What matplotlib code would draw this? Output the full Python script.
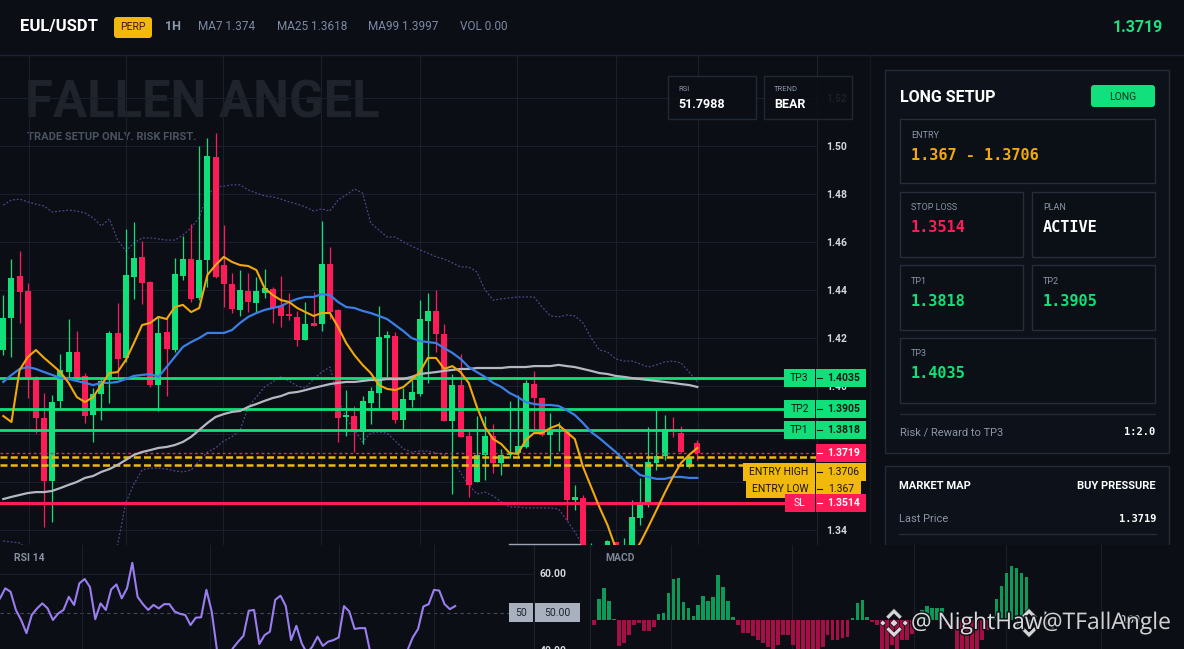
import matplotlib
matplotlib.use("Agg")
import matplotlib.pyplot as plt
from matplotlib.patches import Rectangle, FancyBboxPatch, Polygon
from matplotlib.transforms import blended_transform_factory
import matplotlib.patheffects as pe

SANS = ["Roboto", "DejaVu Sans"]
MONO = ["DejaVu Sans Mono"]
plt.rcParams["font.family"] = SANS

# ---- 1H candles of EUL/USDT ----
opens = [1.4150, 1.4283, 1.4458, 1.4396, 1.4038, 1.3867, 1.3604, 1.3938, 1.4058, 1.4142,
         1.4042, 1.3879, 1.3967, 1.4025, 1.4221, 1.4117, 1.4454, 1.4538, 1.4433, 1.4004,
         1.4225, 1.4150, 1.4458, 1.4529, 1.4367, 1.4525, 1.4954, 1.4504, 1.4425, 1.4317,
         1.4396, 1.4346, 1.4388, 1.4404, 1.4333, 1.4300, 1.4288, 1.4192, 1.4263, 1.4258,
         1.4508, 1.4317, 1.3871, 1.3875, 1.3808, 1.3929, 1.3971, 1.4200, 1.4208, 1.3858,
         1.3942, 1.3967, 1.4271, 1.4313, 1.4217, 1.3854, 1.4004, 1.3792, 1.3600, 1.3713,
         1.3792, 1.3679, 1.3713, 1.3721, 1.3746, 1.4008, 1.3950, 1.3796, 1.3808, 1.3808,
         1.3525, 1.3533, 1.3290, 1.3310, 1.3270, 1.3352, 1.3300, 1.3320, 1.3450, 1.3504,
         1.3679, 1.3708, 1.3821, 1.3804, 1.3663, 1.3763]
highs = [1.4379, 1.4529, 1.4563, 1.4429, 1.4042, 1.3971, 1.3963, 1.4133, 1.4279, 1.4229,
         1.4054, 1.3992, 1.4033, 1.4229, 1.4346, 1.4654, 1.4683, 1.4604, 1.4438, 1.4292,
         1.4283, 1.4533, 1.4625, 1.4675, 1.5000, 1.5033, 1.5054, 1.4671, 1.4471, 1.4483,
         1.4471, 1.4454, 1.4488, 1.4413, 1.4458, 1.4388, 1.4313, 1.4350, 1.4392, 1.4688,
         1.4579, 1.4321, 1.3983, 1.3917, 1.3958, 1.3996, 1.4333, 1.4229, 1.4225, 1.3992,
         1.4025, 1.4358, 1.4388, 1.4400, 1.4258, 1.4050, 1.4133, 1.3821, 1.3875, 1.3875,
         1.3842, 1.3738, 1.3938, 1.3963, 1.4025, 1.4063, 1.3954, 1.3888, 1.3850, 1.3808,
         1.3588, 1.3546, 1.3346, 1.3330, 1.3358, 1.3352, 1.3367, 1.3525, 1.3617, 1.3829,
         1.3904, 1.3879, 1.3871, 1.3833, 1.3713, 1.3775]
lows = [1.4129, 1.4121, 1.4263, 1.3950, 1.3804, 1.3413, 1.3433, 1.3908, 1.4038, 1.4025,
        1.3846, 1.3767, 1.3858, 1.3929, 1.4038, 1.4100, 1.4363, 1.4342, 1.3996, 1.3896,
        1.3958, 1.4142, 1.4442, 1.4350, 1.4358, 1.4413, 1.4450, 1.4329, 1.4304, 1.4292,
        1.4308, 1.4304, 1.4367, 1.4263, 1.4246, 1.4275, 1.4167, 1.4192, 1.4250, 1.4229,
        1.4279, 1.3767, 1.3792, 1.3725, 1.3758, 1.3842, 1.3908, 1.4038, 1.3846, 1.3821,
        1.3913, 1.3958, 1.4013, 1.4142, 1.3854, 1.3550, 1.3788, 1.3538, 1.3600, 1.3608,
        1.3638, 1.3629, 1.3700, 1.3704, 1.3742, 1.3817, 1.3792, 1.3671, 1.3729, 1.3442,
        1.3483, 1.3250, 1.3240, 1.3230, 1.3250, 1.3260, 1.3280, 1.3300, 1.3421, 1.3496,
        1.3650, 1.3692, 1.3788, 1.3721, 1.3658, 1.3692]
closes = [1.4283, 1.4450, 1.4392, 1.4038, 1.3867, 1.3604, 1.3933, 1.4067, 1.4142, 1.4038,
          1.3875, 1.3967, 1.4021, 1.4221, 1.4113, 1.4463, 1.4533, 1.4429, 1.4004, 1.4221,
          1.4154, 1.4467, 1.4529, 1.4363, 1.4525, 1.4958, 1.4454, 1.4425, 1.4321, 1.4400,
          1.4350, 1.4396, 1.4408, 1.4325, 1.4292, 1.4292, 1.4192, 1.4258, 1.4250, 1.4508,
          1.4308, 1.3867, 1.3879, 1.3808, 1.3938, 1.3979, 1.4204, 1.4213, 1.3858, 1.3946,
          1.3975, 1.4279, 1.4313, 1.4217, 1.3854, 1.4004, 1.3788, 1.3588, 1.3713, 1.3792,
          1.3679, 1.3713, 1.3721, 1.3750, 1.4013, 1.3950, 1.3796, 1.3817, 1.3817, 1.3525,
          1.3538, 1.3290, 1.3310, 1.3270, 1.3356, 1.3300, 1.3330, 1.3454, 1.3513, 1.3683,
          1.3708, 1.3821, 1.3813, 1.3725, 1.3704, 1.3719]

ma7 = [1.3875, 1.3850, 1.4067, 1.4121, 1.4150, 1.4117, 1.4088, 1.4058, 1.4013, 1.3954,
       1.3933, 1.3954, 1.4004, 1.4054, 1.4058, 1.4108, 1.4179, 1.4254, 1.4263, 1.4288,
       1.4279, 1.4329, 1.4338, 1.4308, 1.4325, 1.4463, 1.4504, 1.4538, 1.4517, 1.4504,
       1.4500, 1.4483, 1.4408, 1.4379, 1.4358, 1.4350, 1.4325, 1.4308, 1.4292, 1.4304,
       1.4304, 1.4246, 1.4179, 1.4129, 1.4088, 1.4054, 1.4004, 1.3988, 1.3983, 1.3996,
       1.4025, 1.4058, 1.4117, 1.4117, 1.4071, 1.4083, 1.4058, 1.4013, 1.3913, 1.3829,
       1.3779, 1.3758, 1.3721, 1.3717, 1.3775, 1.3804, 1.3804, 1.3825, 1.3838, 1.3808,
       1.3779, 1.3663, 1.3579, 1.3496, 1.3421, 1.3325, 1.3275, 1.3296, 1.3346, 1.3413,
       1.3483, 1.3554, 1.3621, 1.3679, 1.3713, 1.3742]
ma25 = [1.4017, 1.4046, 1.4071, 1.4079, 1.4071, 1.4058, 1.4046, 1.4033, 1.4029, 1.4021,
        1.4013, 1.4004, 1.4013, 1.4013, 1.4017, 1.4029, 1.4042, 1.4046, 1.4050, 1.4038,
        1.4079, 1.4121, 1.4163, 1.4183, 1.4200, 1.4221, 1.4221, 1.4221, 1.4233, 1.4263,
        1.4288, 1.4304, 1.4317, 1.4325, 1.4333, 1.4350, 1.4363, 1.4371, 1.4371, 1.4383,
        1.4379, 1.4350, 1.4329, 1.4325, 1.4313, 1.4304, 1.4292, 1.4279, 1.4254, 1.4229,
        1.4200, 1.4188, 1.4183, 1.4179, 1.4158, 1.4138, 1.4113, 1.4079, 1.4058, 1.4038,
        1.4013, 1.3996, 1.3971, 1.3954, 1.3933, 1.3925, 1.3921, 1.3921, 1.3917, 1.3900,
        1.3879, 1.3846, 1.3808, 1.3783, 1.3754, 1.3725, 1.3692, 1.3658, 1.3629, 1.3621,
        1.3613, 1.3613, 1.3621, 1.3621, 1.3617, 1.3617]
ma99 = [1.3529, 1.3538, 1.3546, 1.3554, 1.3558, 1.3558, 1.3563, 1.3575, 1.3588, 1.3600,
        1.3617, 1.3625, 1.3642, 1.3654, 1.3671, 1.3692, 1.3713, 1.3725, 1.3733, 1.3742,
        1.3746, 1.3754, 1.3767, 1.3788, 1.3817, 1.3846, 1.3871, 1.3883, 1.3892, 1.3896,
        1.3913, 1.3925, 1.3938, 1.3950, 1.3958, 1.3971, 1.3975, 1.3983, 1.3992, 1.4000,
        1.4008, 1.4013, 1.4017, 1.4017, 1.4021, 1.4025, 1.4025, 1.4029, 1.4029, 1.4029,
        1.4038, 1.4050, 1.4054, 1.4058, 1.4063, 1.4067, 1.4071, 1.4071, 1.4075, 1.4075,
        1.4075, 1.4075, 1.4079, 1.4079, 1.4079, 1.4083, 1.4083, 1.4083, 1.4088, 1.4083,
        1.4079, 1.4071, 1.4063, 1.4054, 1.4050, 1.4042, 1.4038, 1.4033, 1.4029, 1.4025,
        1.4021, 1.4017, 1.4013, 1.4008, 1.4004, 1.3996]
band_upper = [1.4754, 1.4775, 1.4779, 1.4767, 1.4758, 1.4750, 1.4725, 1.4729, 1.4733, 1.4729,
              1.4721, 1.4700, 1.4667, 1.4696, 1.4608, 1.4563, 1.4596, 1.4617, 1.4617, 1.4613,
              1.4608, 1.4608, 1.4629, 1.4658, 1.4704, 1.4796, 1.4829, 1.4833, 1.4838, 1.4838,
              1.4817, 1.4804, 1.4792, 1.4788, 1.4779, 1.4767, 1.4758, 1.4746, 1.4729, 1.4738,
              1.4729, 1.4775, 1.4796, 1.4821, 1.4804, 1.4679, 1.4650, 1.4621, 1.4621, 1.4600,
              1.4583, 1.4567, 1.4554, 1.4538, 1.4529, 1.4513, 1.4496, 1.4496, 1.4475, 1.4400,
              1.4358, 1.4363, 1.4367, 1.4371, 1.4371, 1.4371, 1.4329, 1.4292, 1.4288, 1.4296,
              1.4292, 1.4263, 1.4200, 1.4150, 1.4142, 1.4113, 1.4104, 1.4104, 1.4092, 1.4079,
              1.4088, 1.4100, 1.4104, 1.4096, 1.4058, 1.4017]
band_lower = [1.3354, 1.3350, 1.3346, 1.3320, 1.3290, 1.3260, 1.3240, 1.3240, 1.3250, 1.3260,
              1.3270, 1.3280, 1.3290, 1.3310, 1.3338, 1.3513, 1.3592, 1.3650, 1.3658, 1.3658,
              1.3654, 1.3646, 1.3642, 1.3650, 1.3688, 1.3725, 1.3742, 1.3771, 1.3788, 1.3817,
              1.3913, 1.3954, 1.3996, 1.4017, 1.4038, 1.4021, 1.4000, 1.3992, 1.4029, 1.4058,
              1.4079, 1.3950, 1.3867, 1.3817, 1.3767, 1.3804, 1.3808, 1.3804, 1.3771, 1.3738,
              1.3725, 1.3729, 1.3729, 1.3721, 1.3713, 1.3692, 1.3638, 1.3588, 1.3550, 1.3558,
              1.3542, 1.3517, 1.3496, 1.3496, 1.3492, 1.3492, 1.3492, 1.3492, 1.3488, 1.3442,
              1.3392, 1.3333, 1.3280, 1.3240, 1.3200, 1.3170, 1.3150, 1.3140, 1.3140, 1.3150,
              1.3170, 1.3190, 1.3210, 1.3230, 1.3250, 1.3270]

rsi14 = [53.7, 56.3, 55.4, 50.7, 48.1, 44.7, 49.4, 51.1, 52.4, 51.1,
         48.1, 49.8, 50.7, 54.1, 52.0, 57.6, 58.7, 56.6, 48.3, 52.4,
         50.7, 56.0, 57.3, 53.7, 56.3, 62.9, 54.1, 52.2, 50.7, 52.0,
         51.1, 52.2, 52.2, 50.3, 49.7, 49.4, 46.8, 48.7, 48.8, 55.9,
         50.3, 40.3, 37.8, 37.8, 40.8, 42.5, 44.0, 50.5, 50.7, 41.9,
         44.2, 45.1, 53.3, 54.4, 51.7, 42.9, 46.6, 42.1, 39.5, 41.2,
         43.8, 41.4, 42.5, 42.9, 43.6, 51.7, 50.3, 45.8, 46.0, 46.0,
         39.5, 36.9, 36.0, 35.2, 35.2, 36.0, 37.8, 40.3, 43.6, 45.8,
         51.6, 52.2, 55.9, 55.7, 52.2, 50.9, 51.7]

macd_hist = [-0.0015, 0.0063, 0.0095, 0.0058, 0.0002, -0.0078, -0.0070, -0.0045, -0.0015, -0.0008,
             -0.0032, -0.0032, -0.0022, 0.0018, 0.0022, 0.0082, 0.0122, 0.0125, 0.0055, 0.0035,
             0.0013, 0.0045, 0.0072, 0.0057, 0.0068, 0.0135, 0.0100, 0.0057, 0.0008, -0.0015,
             -0.0038, -0.0038, -0.0048, -0.0060, -0.0068, -0.0080, -0.0092, -0.0075, -0.0045, -0.0045,
             -0.0075, -0.0095, -0.0100, -0.0098, -0.0096, -0.0092, -0.0080, -0.0045, -0.0060, -0.0060,
             -0.0055, -0.0052, 0.0005, 0.0052, 0.0060, 0.0008, -0.0005, -0.0015, -0.0092, -0.0095,
             -0.0075, -0.0092, -0.0060, -0.0060, -0.0042, 0.0008, 0.0030, 0.0042, 0.0035, 0.0035,
             0.0035, -0.0015, -0.0030, -0.0095, -0.0100, -0.0098, -0.0096, -0.0092, -0.0060, -0.0030,
             0.0008, 0.0063, 0.0102, 0.0140, 0.0162, 0.0157, 0.0142, 0.0130]

price_ticks = [1.34, 1.36, 1.38, 1.40, 1.42, 1.44, 1.46, 1.48, 1.50, 1.52]
hidden_ticks = [1.36, 1.38]   # covered by the level tags in the reference
tp1, tp2, tp3 = 1.3818, 1.3905, 1.4035
entry_low, entry_high = 1.367, 1.3706
stop_loss = 1.3514
last_price = 1.3719
rsi_now, trend = "51.7988", "BEAR"

# ---- layout / colours ----
W, H = 1184, 649
BG = "#0b0e15"
GRID = "#1a202b"
LINE = "#1d2430"
GREEN = "#0fe07a"
RED = "#ff1a58"
GOLD = "#f0b90b"
MUTED = "#8a95a8"
CARD_EDGE = "#262e3b"

fig = plt.figure(figsize=(W / 100, H / 100), dpi=100)
fig.patch.set_facecolor(BG)


def px_rect(x0, y0, x1, y1):
    return [x0 / W, 1 - y1 / H, (x1 - x0) / W, (y1 - y0) / H]


def pixel_axes(z):
    a = fig.add_axes([0, 0, 1, 1], zorder=z)
    a.set_xlim(0, W)
    a.set_ylim(H, 0)
    a.axis("off")
    return a


def txt(a, x, y, s, size, color, weight="normal", ha="left", family=SANS, **kw):
    a.text(x, y, s, fontsize=size, color=color, fontweight=weight, ha=ha, va="center",
           family=family, **kw)


def box(a, x0, y0, x1, y1, face, edge="none", lw=1.0, z=1, alpha=1.0):
    a.add_patch(Rectangle((x0, y0), x1 - x0, y1 - y0, facecolor=face, edgecolor=edge,
                          lw=lw, zorder=z, alpha=alpha))


# ---- background layer: header, watermark title, right panel ----
bg = pixel_axes(0)
bg.plot([0, W], [55, 55], color=LINE, lw=1)
txt(bg, 20, 27, "EUL/USDT", 12, "white", "bold")
bg.add_patch(FancyBboxPatch((114, 17), 38, 21, boxstyle="round,pad=0,rounding_size=3",
                            facecolor=GOLD, edgecolor="none"))
txt(bg, 133, 27.5, "PERP", 7.5, "#4a1208", ha="center")
txt(bg, 165, 27, "1H", 9, "#8d98ad", "bold")
txt(bg, 198, 27, "MA7 1.374", 8.5, "#7c8aa5")
txt(bg, 277, 27, "MA25 1.3618", 8.5, "#7c8aa5")
txt(bg, 368, 27, "MA99 1.3997", 8.5, "#7c8aa5")
txt(bg, 460, 27, "VOL 0.00", 8.5, "#7c8aa5")
txt(bg, 1163, 28, f"{last_price:.4f}", 11.5, "#1fe082", "bold", ha="right")

txt(bg, 25, 103, "FALLEN ANGEL", 36.5, "#1e232c", "bold")
txt(bg, 27, 137, "TRADE SETUP ONLY. RISK FIRST.", 8, "#4b5262", "bold")

bg.plot([870, 870], [55, 545], color="#131922", lw=1)
box(bg, 885, 70, 1169, 453, "#0d1119", "#232b38")
txt(bg, 900, 97, "LONG SETUP", 11.5, "white", "bold")
bg.add_patch(FancyBboxPatch((1091, 85), 64, 22, boxstyle="round,pad=0,rounding_size=3",
                            facecolor="#12e07c", edgecolor="none", zorder=2))
txt(bg, 1123, 96.5, "LONG", 7.5, "#06331b", ha="center", zorder=3)

box(bg, 900, 119, 1155, 183, "#0b0f16", CARD_EDGE, z=2)
txt(bg, 911, 135, "ENTRY", 6.5, MUTED, zorder=3)
txt(bg, 911, 156, f"{entry_low:g} - {entry_high:g}", 11, "#f2a90c", "bold", family=MONO, zorder=3)

cards = [(900, 192, 1023, 257, "STOP LOSS", f"{stop_loss:.4f}", RED),
         (1032, 192, 1155, 257, "PLAN", "ACTIVE", "white"),
         (900, 265, 1023, 330, "TP1", f"{tp1:.4f}", GREEN),
         (1032, 265, 1155, 330, "TP2", f"{tp2:.4f}", GREEN),
         (900, 338, 1155, 403, "TP3", f"{tp3:.4f}", GREEN)]
for x0, y0, x1, y1, name, val, col in cards:
    box(bg, x0, y0, x1, y1, "#0b0f16", CARD_EDGE, z=2)
    txt(bg, x0 + 11, y0 + 16, name, 6.5, MUTED, zorder=3)
    txt(bg, x0 + 11, y0 + 36, val, 11, col, "bold", family=MONO, zorder=3)

bg.plot([900, 1155], [414, 414], color="#232b38", lw=1, zorder=2)
txt(bg, 900, 432, "Risk / Reward to TP3", 8, MUTED, zorder=3)
txt(bg, 1155, 432, "1:2.0", 7.5, "white", "bold", ha="right", family=MONO, zorder=3)

box(bg, 885, 466, 1169, 620, "#0d1119", "#232b38")
txt(bg, 899, 486, "MARKET MAP", 8, "white", "bold", zorder=3)
txt(bg, 1156, 486, "BUY PRESSURE", 8, "white", "bold", ha="right", zorder=3)
txt(bg, 899, 519, "Last Price", 8, MUTED, zorder=3)
txt(bg, 1156, 519, f"{last_price:.4f}", 7.5, "white", "bold", ha="right", family=MONO, zorder=3)
bg.plot([899, 1156], [534, 534], color="#232b38", lw=1, zorder=2)

# ---- main price pane ----
ax = fig.add_axes(px_rect(0, 55, 817, 545), zorder=1)
ax.set_facecolor("none")
ymin, ymax = 1.33375, 1.53792
ax.set_xlim(-0.404, 99.66)
ax.set_ylim(ymin, ymax)
for side in ("top", "left", "bottom"):
    ax.spines[side].set_visible(False)
ax.spines["right"].set_color(LINE)
ax.set_xticks([])
ax.yaxis.tick_right()
ax.set_yticks(price_ticks)
ax.set_yticklabels(["" if t in hidden_ticks else f"{t:.2f}" for t in price_ticks],
                   fontweight="bold")
ax.tick_params(axis="y", length=0, pad=6.3, labelsize=7.5, labelcolor="#d3d7de")
ax.get_yticklabels()[-1].set_color("#5d6575")

for t in price_ticks:
    ax.axhline(t, color=GRID, lw=0.8, zorder=0)
for gx in [3.15, 15.0, 26.9, 38.9, 51.0, 62.9, 75.0, 85.1]:
    ax.axvline(gx, color=GRID, lw=0.8, zorder=0)

xs = list(range(len(closes)))
cols = [GREEN if c >= o else RED for o, c in zip(opens, closes)]
ax.vlines(xs, lows, highs, colors=cols, lw=0.9, zorder=3)
ax.bar(xs, [max(abs(c - o), 0.0006) for o, c in zip(opens, closes)],
       bottom=[min(o, c) for o, c in zip(opens, closes)], width=0.73, color=cols, lw=0, zorder=3)

ax.plot(xs, band_upper, color="#4b4888", lw=0.9, ls=(0, (1.5, 1.5)), zorder=2)
ax.plot(xs, band_lower, color="#4b4888", lw=0.9, ls=(0, (1.5, 1.5)), zorder=2)

ax.axhline(tp3, xmax=784 / 817, color=GREEN, lw=2.0, zorder=4)
ax.axhline(tp2, xmax=784 / 817, color=GREEN, lw=2.0, zorder=4)
ax.axhline(tp1, xmax=784 / 817, color=GREEN, lw=2.0, zorder=4)
ax.axhline(stop_loss, xmax=785 / 817, color=RED, lw=2.2, zorder=4)
ax.axhline(entry_high, color=GOLD, lw=1.8, ls=(0, (2.8, 1.3)), zorder=4)
ax.axhline(entry_low, xmax=743 / 817, color=GOLD, lw=1.8, ls=(0, (2.8, 1.3)), zorder=4)
ax.axhline(last_price, color=RED, lw=1.0, ls=(0, (2.0, 2.0)), zorder=4)

ax.plot(xs, ma99, color="#b4b8c2", lw=1.6, zorder=5)
ax.plot(xs, ma25, color="#3a7fe6", lw=1.6, zorder=5)
ax.plot(xs, ma7, color="#f0a80a", lw=1.5, zorder=6)

lvl_tf = blended_transform_factory(ax.transAxes, ax.transData)
ppu = 490 / (ymax - ymin)


def tag(x0, x1, yc, text, face, tcol, weight="normal", tick=False):
    h = 18 / ppu
    ax.add_patch(Rectangle((x0 / 817, yc - h / 2), (x1 - x0) / 817, h, transform=lvl_tf,
                           facecolor=face, lw=0, clip_on=False, zorder=10))
    ax.text((x0 + x1) / 2 / 817 + (2.5 / 817 if tick else 0), yc, text, transform=lvl_tf,
            ha="center", va="center", color=tcol, fontsize=7.5, fontweight=weight,
            clip_on=False, zorder=11)
    if tick:
        ax.plot([817 / 817, 822 / 817], [yc, yc], transform=lvl_tf, color=tcol, lw=0.8,
                clip_on=False, zorder=11)


DARK = "#0c1a13"
for name, lvl in (("TP3", tp3), ("TP2", tp2), ("TP1", tp1)):
    tag(784, 815, lvl, name, GREEN, DARK)
    tag(816, 866, lvl, f"{lvl:.4f}", GREEN, DARK, "bold", tick=True)
tag(816, 866, last_price, f"{last_price:.4f}", RED, "white", "bold", tick=True)
eh_y = entry_high - 15.3 / ppu
el_y = entry_low - 23.8 / ppu
tag(743, 815, eh_y, "ENTRY HIGH", GOLD, "#1a1405")
tag(816, 866, eh_y, f"{entry_high:g}", GOLD, "#1a1405", tick=True)
tag(746, 815, el_y, "ENTRY LOW", GOLD, "#1a1405")
tag(816, 861, el_y, f"{entry_low:g}", GOLD, "#1a1405", tick=True)
tag(785, 815, stop_loss, "SL", RED, "white")
tag(816, 866, stop_loss, f"{stop_loss:.4f}", RED, "white", "bold", tick=True)

# ---- RSI pane ----
rsi_ax = fig.add_axes(px_rect(0, 545, 534, 649), zorder=2)
rsi_ax.set_facecolor(BG)
rsi_ax.set_xlim(0, 100.9)
rsi_ax.set_ylim(40.6, 67.5)
for side in ("top", "left", "bottom"):
    rsi_ax.spines[side].set_visible(False)
rsi_ax.spines["right"].set_color(LINE)
rsi_ax.set_xticks([])
rsi_ax.set_yticks([])
rsi_ax.axhline(60, color=GRID, lw=0.8, zorder=0)
rsi_ax.axhline(50, color="#434a57", lw=0.8, ls=(0, (3, 3)), zorder=0)
for gx in [15.5, 39.7, 64.1, 82.0]:
    rsi_ax.axvline(gx, color=GRID, lw=0.8, zorder=0)
rsi_ax.plot(range(len(rsi14)), rsi14, color="#9a7ef0", lw=1.5, zorder=3)
rsi_ax.text(14 / 534, 1 - 13 / 104, "RSI 14", transform=rsi_ax.transAxes, fontsize=7.5,
            color="#8690a2", fontweight="bold", va="center")
rsi_tf = blended_transform_factory(rsi_ax.transAxes, rsi_ax.transData)
for lvl in (60, 40):
    rsi_ax.text(540 / 534, lvl, f"{lvl:.2f}", transform=rsi_tf, fontsize=7.5, color="#d3d7de",
                fontweight="bold", va="center", clip_on=False)
rh = 19 / (104 / (67.5 - 40.6))
for x0, x1, s in ((509, 533, "50"), (535, 580, "50.00")):
    rsi_ax.add_patch(Rectangle((x0 / 534, 50 - rh / 2), (x1 - x0) / 534, rh, transform=rsi_tf,
                               facecolor="#a9b1be", lw=0, clip_on=False, zorder=10))
    rsi_ax.text((x0 + x1) / 2 / 534, 50, s, transform=rsi_tf, fontsize=7.5, color="#1c2330",
                ha="center", va="center", clip_on=False, zorder=11)

# ---- MACD pane ----
macd_ax = fig.add_axes(px_rect(590, 545, 1184, 649), zorder=2)
macd_ax.set_facecolor(BG)
macd_ax.set_xlim(-0.8, 118.7)
macd_ax.set_ylim(-0.0087, 0.0225)
for side in ("top", "right", "bottom"):
    macd_ax.spines[side].set_visible(False)
macd_ax.spines["left"].set_color(LINE)
macd_ax.set_xticks([])
macd_ax.set_yticks([])
for gx in [15.5, 39.8, 64.4, 82.9, 102.0]:
    macd_ax.axvline(gx, color=GRID, lw=0.8, zorder=0)
macd_ax.bar(range(len(macd_hist)), macd_hist, width=0.76,
            color=["#0b9a5a" if v >= 0 else "#a50f45" for v in macd_hist], lw=0, zorder=2)
macd_ax.text(15 / 594, 1 - 13 / 104, "MACD", transform=macd_ax.transAxes, fontsize=7.5,
             color="#7d8798", fontweight="bold", va="center")
macd_ax.text(530 / 594, 0.0, "0.00", transform=blended_transform_factory(macd_ax.transAxes, macd_ax.transData),
             fontsize=7.5, color="#bfc5cf", fontweight="bold", va="center")

# ---- top layer: indicator boxes and watermark ----
top = pixel_axes(6)
box(top, 668, 76, 756, 119, BG, "#262e3b", z=1, alpha=0.85)
box(top, 764, 76, 852, 119, BG, "#262e3b", z=1, alpha=0.8)
txt(top, 678, 89, "RSI", 5.5, MUTED, zorder=2)
txt(top, 678, 104, rsi_now, 9, "white", "bold", zorder=2)
txt(top, 774, 89, "TREND", 5.5, MUTED, zorder=2)
txt(top, 774, 104, trend, 9, "white", "bold", zorder=2)
top.plot([509, 580], [544, 544], color="#9aa3b1", lw=1)


def logo(cx, cy, s, col="#ececec"):
    def dia(x, y, r):
        top.add_patch(Polygon([(x, y - r), (x + r, y), (x, y + r), (x - r, y)], closed=True,
                              facecolor=col, edgecolor=BG, lw=0.6, alpha=0.9, zorder=4))
    dia(cx, cy, 0.26 * s)
    dia(cx - 0.7 * s, cy, 0.2 * s)
    dia(cx + 0.7 * s, cy, 0.2 * s)
    for sgn in (-1, 1):
        pts = [(cx - 0.52 * s, cy + sgn * 0.4 * s), (cx, cy + sgn * 0.92 * s),
               (cx + 0.52 * s, cy + sgn * 0.4 * s), (cx + 0.34 * s, cy + sgn * 0.22 * s),
               (cx, cy + sgn * 0.56 * s), (cx - 0.34 * s, cy + sgn * 0.22 * s)]
        top.add_patch(Polygon(pts, closed=True, facecolor=col, edgecolor=BG, lw=0.6,
                              alpha=0.9, zorder=4))


logo(894, 623, 16)
logo(1029, 623, 16)
wm = [pe.withStroke(linewidth=2.2, foreground="#0b0e15")]
top.text(911, 623, "@ NightHawk", fontsize=16.5, color="#eeeeee", alpha=0.9, va="center",
         family=["Open Sans", "DejaVu Sans"], path_effects=wm, zorder=5)
top.text(1042, 623, "@TFallAngle", fontsize=16.5, color="#eeeeee", alpha=0.85, va="center",
         family=["Open Sans", "DejaVu Sans"], path_effects=wm, zorder=5)

fig.savefig("out.png", dpi=100, facecolor=BG)
